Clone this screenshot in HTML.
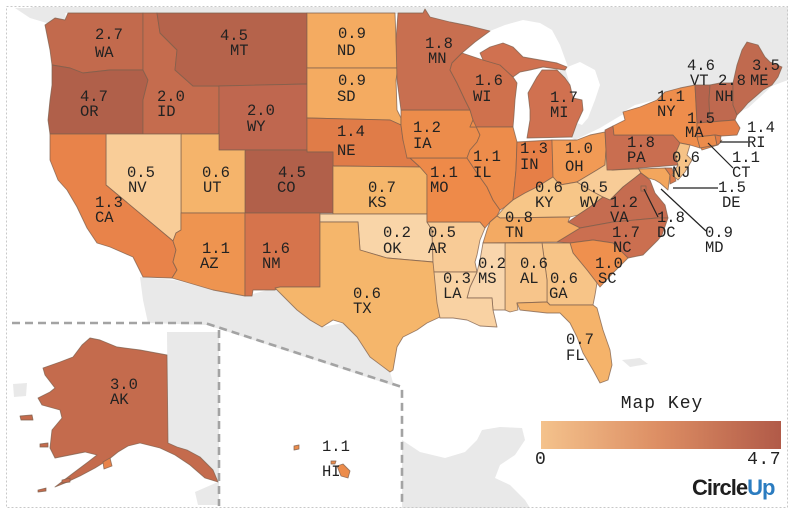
<!DOCTYPE html>
<html><head><meta charset="utf-8"><style>
html,body{margin:0;padding:0;background:#fff;}
svg{display:block;}
.t{font-family:"Liberation Mono","Courier New",monospace;font-size:15.5px;fill:#222;}
.s{stroke:#7d5f4c;stroke-width:0.9;stroke-opacity:0.75;stroke-linejoin:round;}
</style></head><body>
<svg width="792" height="513" viewBox="0 0 792 513" xmlns="http://www.w3.org/2000/svg">
<defs>
<linearGradient id="g" x1="0" x2="1" y1="0" y2="0">
<stop offset="0" stop-color="#f4c28c"/><stop offset="0.5" stop-color="#dc8d63"/><stop offset="1" stop-color="#b15a48"/>
</linearGradient>
</defs>
<rect width="792" height="513" fill="#fff"/>
<!-- background land -->
<g fill="#e9e9e9">
<polygon points="30,7 788,7 788,80 772,86 748,108 720,120 690,112 640,106 620,116 600,128 575,140 560,130 560,60 470,38 400,14 45,13"/>
<polygon points="15,8 65,8 66,22 50,24 30,18"/>
<polygon points="140,277 175,280 213,290 245,296 275,288 297,310 322,327 343,323 357,337 370,357 390,372 394,386 207,325 148,323 143,300"/>
<polygon points="402,440 420,452 445,458 465,452 477,440 482,430 500,427 522,428 525,440 515,455 500,465 495,478 510,485 525,500 530,508 402,508"/>
<polygon points="167,332 219,332 219,505 198,505 195,492 218,482 213,470 200,457 187,450 177,447 168,443"/>
<polygon points="13,384 27,383 26,396 14,397"/>
<polygon points="622,360 640,358 648,364 630,367"/>
</g>
<!-- lakes -->
<g fill="#fff">
<polygon points="455,58 470,40 490,31 505,25 523,20 540,23 552,30 560,45 568,67 540,60 523,57 503,43 480,53 462,53"/>
<polygon points="513,77 520,70 537,72 537,77 528,93 530,110 530,120 527,138 518,138 514,117 513,87"/>
<polygon points="565,68 580,62 595,70 600,85 595,100 588,118 582,125 577,123 583,110 582,100 573,98 570,85"/>
<polygon points="577,140 590,133 605,126 620,118 626,118 622,124 613,126 605,130 590,136"/>
<polygon points="623,112 635,105 655,100 662,100 657,104 640,108"/>
</g>
<!-- states -->
<g class="s">
<polygon fill="#c26a4d" points="45,25 55,18 65,20 68,13 143,13 143,70 110,70 83,73 70,68 52,65 50,50 47,35"/>
<polygon fill="#b0604a" points="52,65 70,68 83,73 110,70 143,70 148,80 143,100 143,134 50,134 48,120 50,100 52,85"/>
<polygon fill="#c56c4e" points="143,13 157,13 160,33 177,50 175,70 193,86 219,86 219,134 143,134 143,100 148,80 143,70"/>
<polygon fill="#b5634b" points="157,13 307,13 307,84 219,86 193,86 175,70 177,50 160,33"/>
<polygon fill="#bf674f" points="219,86 307,84 307,150 219,150"/>
<polygon fill="#f4ab61" points="307,13 395,13 396,40 398,68 307,68"/>
<polygon fill="#f4ab61" points="307,68 398,68 396,80 397,110 401,118 401,125 390,120 307,118"/>
<polygon fill="#e07c48" points="307,118 390,120 401,125 403,140 410,158 420,167 333,166 333,152 307,152"/>
<polygon fill="#b1604a" points="245,150 307,150 307,152 333,152 333,213 245,213"/>
<polygon fill="#f5b66b" points="333,166 420,167 427,175 427,214 333,214"/>
<polygon fill="#f5b46b" points="181,134 219,134 219,150 245,150 245,213 181,213"/>
<polygon fill="#f9cd98" points="106,134 181,134 181,230 176,233 173,241 106,185"/>
<polygon fill="#e8834a" points="50,134 106,134 106,185 173,241 176,250 173,262 177,270 172,278 143,277 133,257 110,247 97,243 87,228 77,207 67,190 58,180 50,160"/>
<polygon fill="#ee9450" points="181,213 245,213 245,296 213,290 172,278 177,270 173,262 176,250 173,241 176,233 181,230"/>
<polygon fill="#d6744c" points="245,213 320,213 320,287 280,287 275,290 253,290 252,296 245,296"/>
<polygon fill="#f9d5a8" points="320,214 427,214 427,222 432,230 433,262 410,260 387,258 360,250 358,222 320,222"/>
<polygon fill="#f5b66b" points="320,222 358,222 360,250 387,258 410,260 433,262 435,270 438,290 440,317 427,323 417,330 403,337 397,347 393,370 390,372 370,357 357,337 343,323 333,320 322,327 310,320 297,310 287,300 275,288 280,287 320,287"/>
<polygon fill="#f8cb96" points="427,222 480,222 485,228 480,240 477,255 475,262 477,272 434,272 433,262 432,230"/>
<polygon fill="#ee8a49" points="407,158 467,158 477,173 487,187 493,200 500,210 497,216 490,222 485,228 480,222 427,222 427,175 420,167 410,158"/>
<polygon fill="#ec8c4b" points="401,110 470,110 473,120 480,135 477,142 470,150 467,158 407,158 403,140 401,125"/>
<polygon fill="#c86f50" points="398,13 423,13 425,9 430,17 450,22 470,26 490,31 475,42 462,53 452,63 450,70 457,83 465,100 470,110 401,110 397,80 396,40"/>
<polygon fill="#cf714d" points="462,53 483,60 500,65 513,77 517,83 515,100 514,115 513,127 470,127 473,120 470,110 465,100 457,83 450,70 452,63"/>
<polygon fill="#d07150" points="480,53 490,47 503,43 513,47 523,57 540,60 557,63 567,67 565,70 543,67 530,70 520,72 513,77 500,65 483,60"/>
<polygon fill="#d07150" points="537,77 542,70 557,70 565,78 570,85 573,98 582,100 583,110 577,123 572,137 527,138 530,120 530,110 528,93"/>
<polygon fill="#ed8c4b" points="470,127 513,127 517,142 516,170 513,200 505,207 500,210 493,200 487,187 477,173 467,158 470,150 477,142 480,135 473,120"/>
<polygon fill="#e67f47" points="517,142 552,140 553,177 537,187 525,193 513,200 516,170"/>
<polygon fill="#f19a55" points="552,140 577,140 590,135 605,132 606,150 605,165 597,170 577,182 560,185 553,177"/>
<polygon fill="#f7c688" points="497,216 505,207 513,200 525,193 537,187 553,177 560,185 577,182 590,190 603,197 590,207 578,215 570,217 500,218"/>
<polygon fill="#f8cc97" points="577,182 597,170 605,165 606,150 611,150 612,170 637,166 641,173 623,187 610,200 603,197 590,190"/>
<polygon fill="#f3a65d" points="612,170 665,168 670,175 668,190 660,183 655,180 648,178 641,173 637,166"/>
<polygon fill="#dd7b4b" points="665,168 672,168 676,181 670,184 670,175"/>
<polygon fill="#c56c50" points="568,222 578,215 590,207 603,197 610,200 623,187 641,173 650,180 655,193 665,205 668,218 657,218 613,222 580,228"/>
<polygon fill="#cb6f50" points="580,228 613,222 657,218 668,218 662,235 658,240 643,255 628,258 613,243 593,240 570,243 557,242"/>
<polygon fill="#f3aa63" points="500,218 570,217 568,222 580,228 557,242 483,243 487,230 490,222 497,216"/>
<polygon fill="#ef904e" points="570,243 593,240 613,243 628,258 613,273 600,287 597,283 587,270 573,253"/>
<polygon fill="#f7c487" points="542,243 570,243 573,253 587,270 597,283 595,295 593,305 550,305 547,302 547,280"/>
<polygon fill="#f7c58b" points="505,243 542,243 547,280 547,302 517,303 518,310 510,312 505,310"/>
<polygon fill="#f9d6ad" points="483,243 505,243 505,310 493,310 492,298 467,298 470,287 477,272 480,260"/>
<polygon fill="#f9d2a3" points="434,272 477,272 470,287 467,298 492,298 493,310 497,327 480,326 467,320 453,318 440,318 437,303"/>
<polygon fill="#f5b36a" points="517,303 547,302 550,305 593,305 597,308 603,330 610,350 612,365 608,380 600,383 593,370 583,353 577,337 570,323 560,313 547,313 520,310"/>
<polygon fill="#c96e50" points="605,130 613,126 614,135 673,135 680,143 675,155 678,165 640,168 612,170 607,170 606,150"/>
<polygon fill="#ee8d4c" points="613,126 625,120 623,112 640,107 657,100 665,92 680,88 695,85 697,123 697,137 700,148 690,145 680,143 673,135 614,135"/>
<polygon fill="#ee8d4c" points="700,146 722,140 718,145 702,150"/>
<polygon fill="#f6c387" points="680,143 690,145 687,155 692,160 685,172 678,180 672,175 678,165 675,155"/>
<polygon fill="#b6644d" points="695,85 710,85 709,100 710,122 697,123"/>
<polygon fill="#bf694f" points="710,85 720,83 733,83 733,105 737,115 735,120 710,122 709,100"/>
<polygon fill="#c06a4f" points="733,83 737,65 742,50 747,42 758,45 765,57 770,62 782,67 778,77 772,85 763,90 755,97 748,103 742,110 737,115 733,105"/>
<polygon fill="#e37e47" points="697,123 710,122 735,120 740,128 737,135 721,136 715,135 697,137"/>
<polygon fill="#ec8c4b" points="697,137 715,135 717,145 700,148"/>
<polygon fill="#e07c48" points="715,135 721,136 720,143 717,145"/>
<polygon fill="#c96e50" points="641,186 646,186 646,191 641,191"/>
<!-- Alaska -->
<polygon fill="#c46b4d" points="90,338 100,340 117,347 140,350 167,355 168,443 177,447 187,450 200,457 213,470 218,482 205,478 190,465 175,455 160,448 140,443 128,446 118,452 108,460 95,468 80,476 65,483 55,487 72,474 88,462 97,455 85,452 70,455 55,458 50,448 52,430 62,418 60,410 42,405 38,398 50,392 55,388 45,375 43,368 60,362 73,357 82,345"/>
<polygon fill="#e8834a" points="103,462 110,458 112,466 104,469"/>
<polygon fill="#c46b4d" points="20,416 32,415 33,420 21,420"/>
<polygon fill="#c46b4d" points="40,444 48,443 48,447 40,447"/>
<polygon fill="#c46b4d" points="62,480 70,478 70,482 62,483"/>
<polygon fill="#c46b4d" points="38,490 46,488 46,491 38,492"/>
<!-- Hawaii -->
<polygon fill="#ec8c4b" points="337,466 343,464 350,471 348,478 341,476"/>
<polygon fill="#ec8c4b" points="294,446 299,445 299,449 294,450"/>
<polygon fill="#ec8c4b" points="331,461 336,461 335,464 331,464"/>
</g>
<!-- dashed frames -->
<rect x="6.5" y="6.5" width="781" height="501" fill="none" stroke="#c8c8c8" stroke-width="1" stroke-dasharray="2,2"/>
<g fill="none" stroke="#a3a3a3" stroke-width="2.6" stroke-dasharray="8,5">
<polyline points="12,323 205,323 402,387 402,506"/>
<line x1="219" y1="330" x2="219" y2="506"/>
</g>
<!-- leader lines -->
<g stroke="#222" stroke-width="1.2" fill="none">
<line x1="720" y1="142" x2="748" y2="142"/>
<line x1="708" y1="143" x2="733" y2="168"/>
<line x1="673" y1="188" x2="718" y2="188"/>
<line x1="661" y1="189" x2="706" y2="231"/>
<line x1="644" y1="189" x2="658" y2="217"/>
</g>
<!-- labels -->
<g class="t">
<text x="95" y="39">2.7</text><text x="95" y="57">WA</text>
<text x="220" y="40">4.5</text><text x="230" y="55">MT</text>
<text x="338" y="38">0.9</text><text x="337" y="55">ND</text>
<text x="338" y="85">0.9</text><text x="337" y="101">SD</text>
<text x="80" y="101">4.7</text><text x="80" y="116">OR</text>
<text x="157" y="101">2.0</text><text x="157" y="116">ID</text>
<text x="247" y="115">2.0</text><text x="247" y="131">WY</text>
<text x="337" y="136">1.4</text><text x="337" y="155">NE</text>
<text x="127" y="177">0.5</text><text x="128" y="192">NV</text>
<text x="202" y="177">0.6</text><text x="203" y="192">UT</text>
<text x="278" y="177">4.5</text><text x="277" y="192">CO</text>
<text x="368" y="192">0.7</text><text x="368" y="207">KS</text>
<text x="95" y="207">1.3</text><text x="95" y="222">CA</text>
<text x="202" y="253">1.1</text><text x="200" y="268">AZ</text>
<text x="262" y="253">1.6</text><text x="262" y="268">NM</text>
<text x="353" y="298">0.6</text><text x="353" y="313">TX</text>
<text x="425" y="48">1.8</text><text x="428" y="63">MN</text>
<text x="475" y="85">1.6</text><text x="473" y="101">WI</text>
<text x="550" y="102">1.7</text><text x="550" y="117">MI</text>
<text x="413" y="132">1.2</text><text x="413" y="148">IA</text>
<text x="473" y="161">1.1</text><text x="473" y="177">IL</text>
<text x="430" y="177">1.1</text><text x="430" y="192">MO</text>
<text x="520" y="153">1.3</text><text x="520" y="169">IN</text>
<text x="565" y="153">1.0</text><text x="565" y="171">OH</text>
<text x="535" y="192">0.6</text><text x="535" y="207">KY</text>
<text x="580" y="192">0.5</text><text x="580" y="207">WV</text>
<text x="505" y="222">0.8</text><text x="505" y="237">TN</text>
<text x="610" y="207">1.2</text><text x="610" y="222">VA</text>
<text x="612" y="237">1.7</text><text x="613" y="252">NC</text>
<text x="657" y="222">1.8</text><text x="657" y="237">DC</text>
<text x="705" y="237">0.9</text><text x="705" y="252">MD</text>
<text x="718" y="192">1.5</text><text x="722" y="207">DE</text>
<text x="672" y="162">0.6</text><text x="672" y="177">NJ</text>
<text x="732" y="162">1.1</text><text x="732" y="177">CT</text>
<text x="747" y="132">1.4</text><text x="747" y="147">RI</text>
<text x="687" y="123">1.5</text><text x="685" y="137">MA</text>
<text x="657" y="101">1.1</text><text x="657" y="116">NY</text>
<text x="627" y="147">1.8</text><text x="627" y="162">PA</text>
<text x="687" y="70">4.6</text><text x="690" y="85">VT</text>
<text x="718" y="85">2.8</text><text x="715" y="101">NH</text>
<text x="752" y="70">3.5</text><text x="750" y="85">ME</text>
<text x="383" y="237">0.2</text><text x="383" y="253">OK</text>
<text x="428" y="237">0.5</text><text x="428" y="253">AR</text>
<text x="443" y="283">0.3</text><text x="443" y="298">LA</text>
<text x="478" y="268">0.2</text><text x="478" y="283">MS</text>
<text x="520" y="268">0.6</text><text x="520" y="283">AL</text>
<text x="550" y="283">0.6</text><text x="549" y="298">GA</text>
<text x="595" y="268">1.0</text><text x="598" y="283">SC</text>
<text x="566" y="344">0.7</text><text x="566" y="360">FL</text>
<text x="110" y="389">3.0</text><text x="110" y="404">AK</text>
<text x="322" y="451">1.1</text><text x="322" y="476">HI</text>
</g>
<!-- legend -->
<text x="662" y="408" text-anchor="middle" style="font-family:'Liberation Mono',monospace;font-size:18px;letter-spacing:1px;fill:#222">Map Key</text>
<rect x="541" y="421" width="240" height="28" fill="url(#g)"/>
<text x="535" y="464" style="font-family:'Liberation Mono',monospace;font-size:18px;fill:#222">0</text>
<text x="781" y="464" text-anchor="end" style="font-family:'Liberation Mono',monospace;font-size:18px;letter-spacing:0.5px;fill:#222">4.7</text>
<text x="692" y="495" style="font-family:'Liberation Sans',Arial,sans-serif;font-size:22px;font-weight:bold;letter-spacing:-1px"><tspan fill="#1e1e1e">Circle</tspan><tspan fill="#2b7cc0">Up</tspan></text>
</svg>
</body></html>
